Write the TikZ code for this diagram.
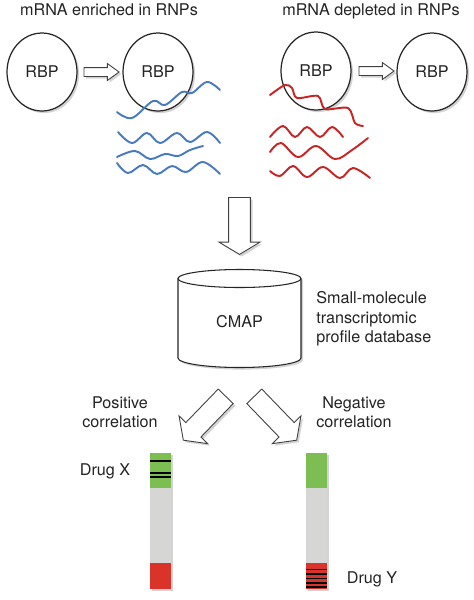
\documentclass[tikz,border=0pt]{standalone}
\usepackage{fontspec}
\setmainfont{TeX Gyre Heros}
\usetikzlibrary{positioning,shapes.geometric,shapes.arrows,shadows}

\definecolor{inkc}{RGB}{35,35,35}
\definecolor{wblue}{RGB}{72,122,192}
\definecolor{wred}{RGB}{200,36,36}
\definecolor{bgreen}{RGB}{124,190,82}
\definecolor{bred}{RGB}{218,52,42}
\definecolor{bgray}{RGB}{214,214,212}

\tikzset{
  softshadow/.style={drop shadow={shadow xshift=1.2pt, shadow yshift=-1.2pt, opacity=0.35}},
  txt/.style={text=inkc, font=\fontsize{9.2}{11.2}\selectfont, inner sep=0pt},
  rbp/.style={ellipse, draw=black!85, line width=0.7pt, fill=white, softshadow,
    minimum width=1.4cm, minimum height=1.56cm, inner sep=0pt, txt},
  blockarrow/.style={single arrow, draw=black!75, line width=0.5pt, fill=white, softshadow,
    inner xsep=0pt, single arrow head indent=0pt},
  smallarrow/.style={blockarrow, inner ysep=0.08cm, single arrow head extend=0.08cm,
    single arrow tip angle=72, minimum height=0.7cm},
  bigarrow/.style={blockarrow, inner ysep=0.21cm, single arrow head extend=0.19cm,
    single arrow tip angle=118, minimum height=1.14cm},
  diagarrow/.style={blockarrow, inner ysep=0.2cm, single arrow head extend=0.19cm,
    single arrow tip angle=108, minimum height=1.22cm},
  bwave/.style={wblue, line width=1.1pt, line cap=round, line join=round},
  rwave/.style={wred, line width=1.1pt, line cap=round, line join=round},
  band/.style={black, line width=0.6pt}
}

\begin{document}
\begin{tikzpicture}[x=0.02cm, y=0.02cm]
  \useasboundingbox (0,0) rectangle (474,-600);

  % titles
  \node[txt, anchor=base] (enr) at (109,-15) {mRNA enriched in RNPs};
  \node[txt, anchor=base] (dep) at (371,-15) {mRNA depleted in RNPs};

  % binding proteins
  \node[rbp] (rbpa) at (42,-72) {RBP};
  \node[rbp] (rbpb) at (158,-72) {RBP};
  \node[rbp] (rbpc) at (316,-71) {RBP};
  \node[rbp] (rbpd) at (432,-72) {RBP};

  \node[smallarrow, right=0.12cm of rbpa] (enrarrow) {};
  \node[smallarrow, right=0.14cm of rbpc] (deparrow) {};

  % enriched mRNA
  \draw[bwave] plot[smooth, tension=0.6] coordinates {(117,-112) (132,-118) (153,-101) (165,-105) (182,-92) (192,-93) (207,-82) (220,-90)};
  \draw[bwave] plot[smooth, tension=0.6] coordinates {(118,-132) (132,-143) (147,-133) (160,-143) (177,-133) (190,-142) (207,-132) (220,-143)};
  \draw[bwave] plot[smooth, tension=0.6] coordinates {(117,-157) (135,-151) (150,-159) (165,-154) (178,-156) (190,-150) (203,-146)};
  \draw[bwave] plot[smooth, tension=0.6] coordinates {(117,-163) (128,-173) (143,-165) (157,-174) (172,-166) (186,-172) (203,-162) (220,-174)};

  % depleted mRNA
  \draw[rwave] plot[smooth, tension=0.5] coordinates {(270,-95) (285,-85) (292,-88) (297,-98) (318,-96) (325,-109) (348,-108) (355,-123) (363,-126)};
  \draw[rwave] plot[smooth, tension=0.6] coordinates {(270,-137) (283,-126) (295,-137) (307,-127) (320,-137) (332,-127) (343,-137)};
  \draw[rwave] plot[smooth, tension=0.6] coordinates {(270,-152) (281,-143) (298,-157) (316,-146) (335,-159) (352,-150) (368,-138)};
  \draw[rwave] plot[smooth, tension=0.6] coordinates {(270,-171) (280,-176) (293,-166) (307,-177) (323,-167) (340,-178) (353,-168) (370,-178)};

  \node[bigarrow, rotate=-90, anchor=tail] (down) at (239.5,-197) {};

  % database
  \draw[black!85, line width=0.6pt, fill=white, softshadow]
    (178,-278.5) -- (178,-358) arc[start angle=180, end angle=360, x radius=61.5, y radius=9.5]
    -- (301,-278.5) arc[start angle=0, end angle=180, x radius=61.5, y radius=9] -- cycle;
  \draw[black!85, line width=0.6pt] (178,-278.5) arc[start angle=180, end angle=360, x radius=61.5, y radius=9];
  \node[txt] (cmap) at (239.5,-322) {CMAP};
  \node[txt, align=left, anchor=north west] (db) at (316,-291) {Small-molecule\\transcriptomic\\profile database};

  \node[diagarrow, rotate=-134, anchor=tail] (posarrow) at (226,-396) {};
  \node[diagarrow, rotate=-46, anchor=tail] (negarrow) at (254,-396) {};
  \node[txt, align=center, anchor=north] (pos) at (120,-396) {Positive\\correlation};
  \node[txt, align=center, anchor=north] (neg) at (354,-396) {Negative\\correlation};

  % signatures
  \foreach \bx in {150,306} {
    \path[fill=bgray, softshadow] (\bx,-453) rectangle (\bx+21,-589);
    \fill[bgreen] (\bx,-453) rectangle (\bx+21,-488);
    \fill[bred] (\bx,-563) rectangle (\bx+21,-589);
  }
  \foreach \yy in {461,473,477}
    \draw[band] (150,-\yy) -- (171,-\yy);
  \foreach \yy in {569.5,574,578.5,583,587}
    \draw[band] (306,-\yy) -- (327,-\yy);

  \node[txt, anchor=base] (drugx) at (105,-475) {Drug X};
  \node[txt, anchor=base] (drugy) at (372,-583) {Drug Y};
\end{tikzpicture}
\end{document}
